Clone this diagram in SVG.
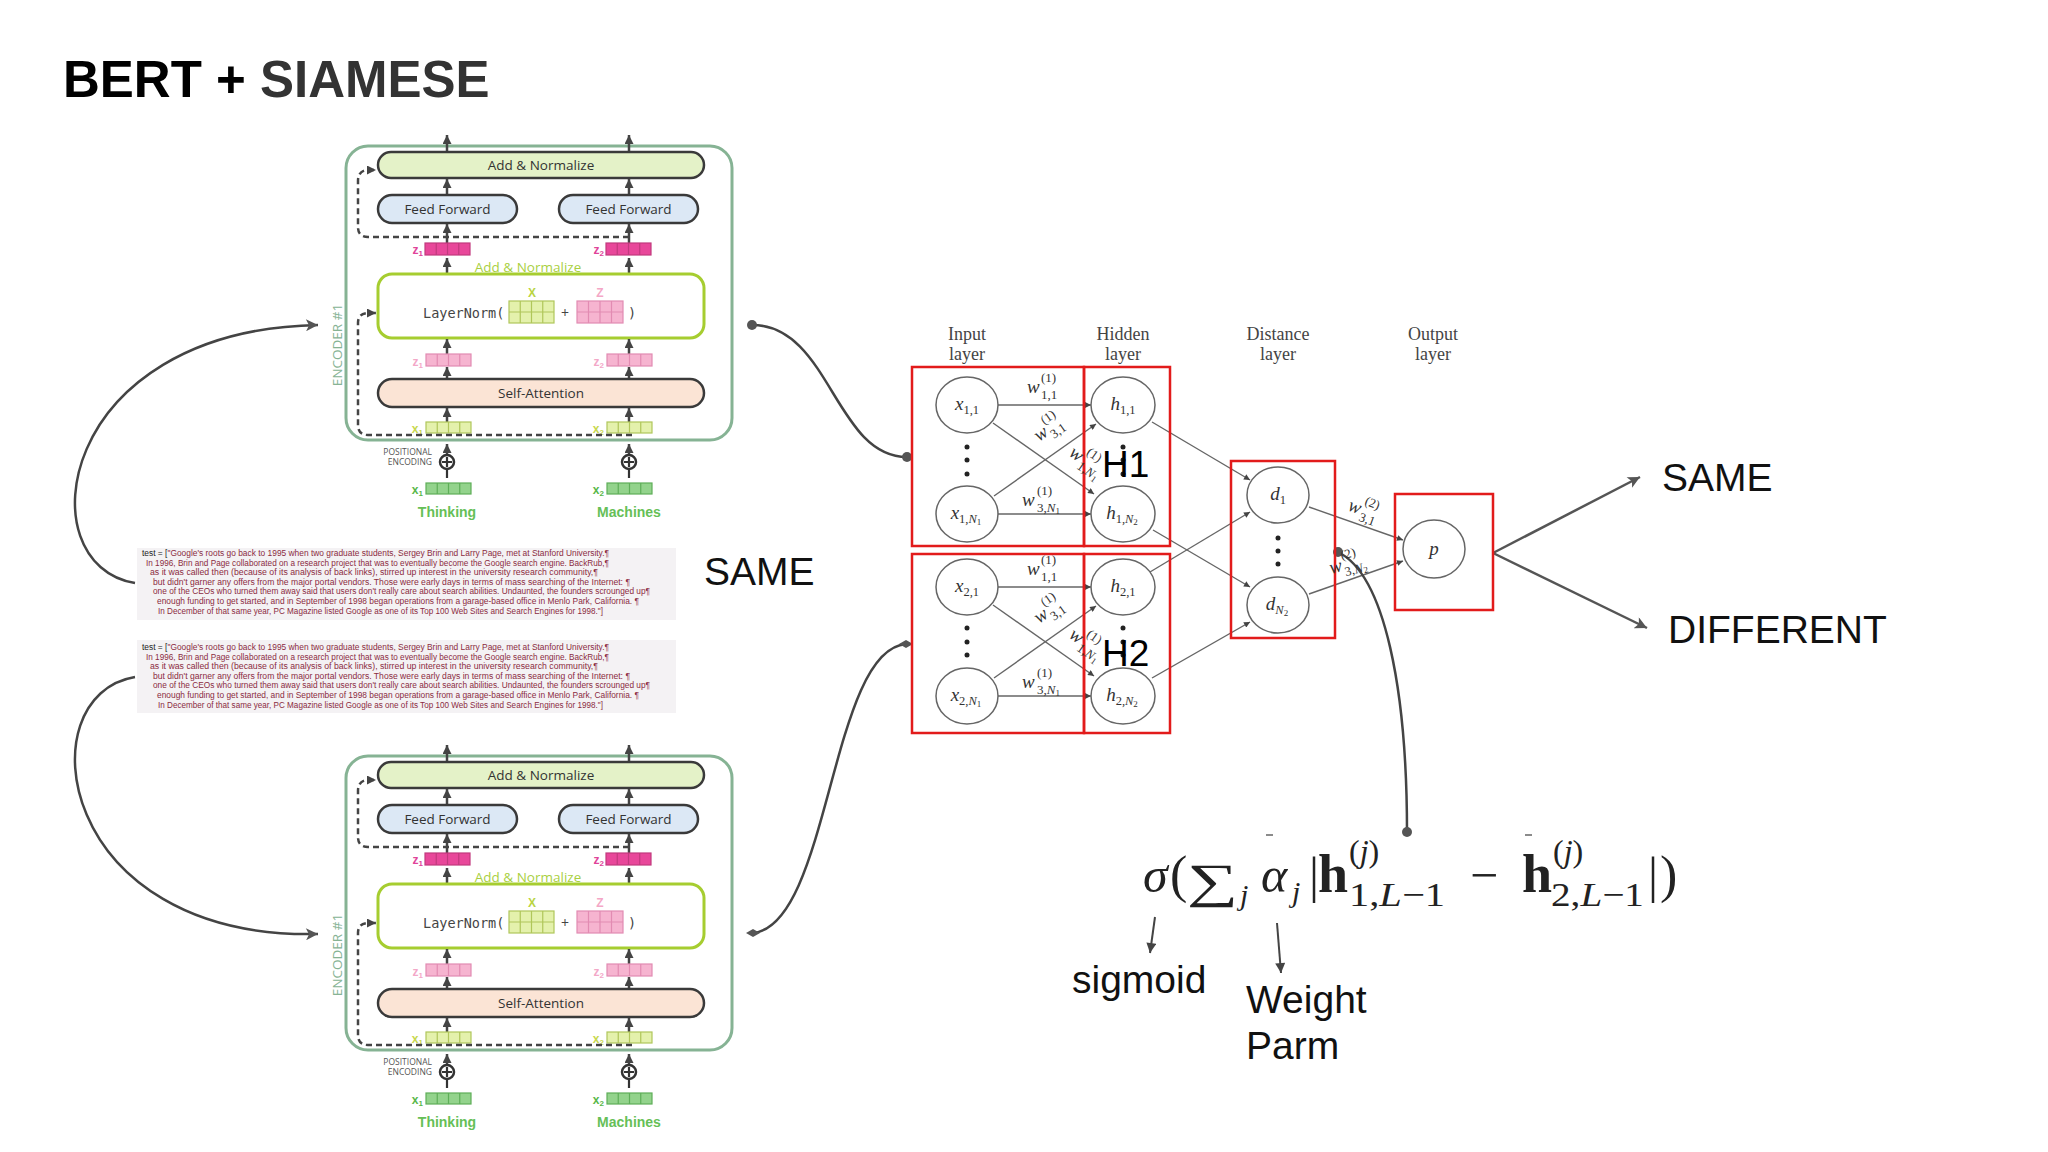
<svg xmlns="http://www.w3.org/2000/svg" width="2048" height="1152" viewBox="0 0 2048 1152">
<defs>
<style>
.frame{fill:none;stroke:#86b394;stroke-width:3}
.box{stroke:#3a3a3a;stroke-width:2.5}
.ea{stroke:#444;stroke-width:2.5;fill:none;marker-end:url(#ah)}
.dash{stroke:#444;stroke-width:2.5;fill:none;stroke-dasharray:6 4;marker-end:url(#ah)}
.et{font-family:"Open Sans","Liberation Sans",sans-serif;font-size:13.5px;fill:#333;text-anchor:middle}
.lbl{font-family:"Liberation Sans",sans-serif;font-weight:bold;font-size:12px;text-anchor:end}
.cd{stroke-width:1.2}
.zd{fill:#e8479a;stroke:#c13a7e}
.zl{fill:#f6b4d0;stroke:#e28bb2}
.xl{fill:#e4f1ac;stroke:#b0c65a}
.xg{fill:#93d38c;stroke:#5eae58}
.red{fill:none;stroke:#e21b1b;stroke-width:2.5}
.node{fill:#fff;stroke:#666;stroke-width:1.5}
.edge{stroke:#666;stroke-width:1.4;fill:none;marker-end:url(#sa)}
.m{font-family:"Liberation Serif","DejaVu Serif",serif;fill:#333}
.mi{font-style:italic;font-size:19px}
.ms{font-size:13px}
.hdr{font-family:"Liberation Serif","DejaVu Serif",serif;font-size:18px;fill:#444;text-anchor:middle}
.dot{fill:#222}
.conn{stroke:#444;stroke-width:2.5;fill:none}
.code{font-family:"Liberation Sans",sans-serif;font-size:8.3px;fill:#8b2b3f}
.big{font-family:"Liberation Sans",Arial,sans-serif;font-size:39px;fill:#111}
.fm{font-family:"Liberation Serif","DejaVu Serif",serif;fill:#222}
.enc{font-family:"Open Sans","Liberation Sans",sans-serif;font-size:13.5px;fill:#86b394;text-anchor:middle}
</style>
<marker id="ah" viewBox="0 0 10 10" refX="10" refY="5" markerWidth="9" markerHeight="9" markerUnits="userSpaceOnUse" orient="auto"><path d="M0,0 L10,5 L0,10 z" fill="#444"/></marker>
<marker id="sa" viewBox="0 0 10 10" refX="10" refY="5" markerWidth="7" markerHeight="6" markerUnits="userSpaceOnUse" orient="auto"><path d="M0,0 L10,5 L0,10 z" fill="#444"/></marker>
<marker id="bg" viewBox="0 0 10 10" refX="10" refY="5" markerWidth="16" markerHeight="12" markerUnits="userSpaceOnUse" orient="auto"><path d="M0,0 L10,5 L0,10 L2.5,5 z" fill="#555"/></marker>
<marker id="fa" viewBox="0 0 10 10" refX="10" refY="5" markerWidth="12" markerHeight="10" markerUnits="userSpaceOnUse" orient="auto"><path d="M0,0 L10,5 L0,10 z" fill="#444"/></marker>
</defs>
<rect width="2048" height="1152" fill="#fff"/>

<g id="title"><text x="63" y="97" font-family="Liberation Sans,Arial,sans-serif" font-weight="bold" font-size="51" fill="#000">BERT + <tspan fill="#333">SIAMESE</tspan></text></g>

<g id="encoder-top">
<rect class="frame" x="346" y="146" width="386" height="294" rx="22"/>
<text class="enc" transform="translate(342,345) rotate(-90)">ENCODER #1</text>
<line class="ea" x1="447" y1="152" x2="447" y2="135"/><line class="ea" x1="629" y1="152" x2="629" y2="135"/>
<rect class="box" x="378" y="152" width="326" height="26" rx="13" fill="#e4f2c8"/>
<text class="et" x="541" y="170">Add &amp; Normalize</text>
<line class="ea" x1="447" y1="195" x2="447" y2="179"/><line class="ea" x1="629" y1="195" x2="629" y2="179"/>
<rect class="box" x="378" y="195" width="139" height="28" rx="14" fill="#dce8f5"/>
<text class="et" x="447.5" y="214">Feed Forward</text>
<rect class="box" x="559" y="195" width="139" height="28" rx="14" fill="#dce8f5"/>
<text class="et" x="628.5" y="214">Feed Forward</text>
<path class="dash" d="M629,237 H368 Q358,237 358,227 V181 Q358,171 367,170 L376,170"/>
<line class="ea" x1="447" y1="243" x2="447" y2="224"/><line class="ea" x1="629" y1="243" x2="629" y2="224"/>
<g class="cd"><rect class="zd" x="425" y="243" width="45" height="12"/><path d="M436.25,243v12M447.5,243v12M458.75,243v12" stroke="#c13a7e"/>
<rect class="zd" x="606" y="243" width="45" height="12"/><path d="M617.25,243v12M628.5,243v12M639.75,243v12" stroke="#c13a7e"/></g>
<text class="lbl" x="423" y="254" fill="#e0449a">z<tspan font-size="8" dy="2">1</tspan></text>
<text class="lbl" x="604" y="254" fill="#e0449a">z<tspan font-size="8" dy="2">2</tspan></text>
<line class="ea" x1="447" y1="273" x2="447" y2="258"/><line class="ea" x1="629" y1="273" x2="629" y2="258"/>
<rect x="378" y="274" width="326" height="64" rx="14" fill="#fff" stroke="#a6cd30" stroke-width="3"/>
<text class="et" x="528" y="272" font-size="14" style="fill:#a9d03f">Add &amp; Normalize</text>
<text x="532" y="297" font-family="Liberation Sans,sans-serif" font-size="12" font-weight="bold" fill="#b9d442" text-anchor="middle">X</text>
<text x="600" y="297" font-family="Liberation Sans,sans-serif" font-size="12" font-weight="bold" fill="#f4a7c6" text-anchor="middle">Z</text>
<text x="423" y="318" font-family="DejaVu Sans Mono,Liberation Mono,monospace" font-size="13.5" fill="#444">LayerNorm(</text>
<g class="cd"><rect class="xl" x="509" y="301" width="45" height="22"/><path d="M520.25,301v22M531.5,301v22M542.75,301v22M509,312h45" stroke="#b0c65a"/>
<rect class="zl" x="577" y="301" width="46" height="22"/><path d="M588.5,301v22M600,301v22M611.5,301v22M577,312h46" stroke="#e28bb2"/></g>
<text x="565" y="318" font-family="Open Sans,sans-serif" font-size="14" fill="#444" text-anchor="middle">+</text>
<text x="628" y="318" font-family="DejaVu Sans Mono,monospace" font-size="13.5" fill="#444">)</text>
<line class="ea" x1="447" y1="354" x2="447" y2="339"/><line class="ea" x1="629" y1="354" x2="629" y2="339"/>
<g class="cd"><rect class="zl" x="426" y="354" width="45" height="12"/><path d="M437.25,354v12M448.5,354v12M459.75,354v12" stroke="#e28bb2"/>
<rect class="zl" x="607" y="354" width="45" height="12"/><path d="M618.25,354v12M629.5,354v12M640.75,354v12" stroke="#e28bb2"/></g>
<text class="lbl" x="423" y="366" fill="#f3a8c8">z<tspan font-size="8" dy="2">1</tspan></text>
<text class="lbl" x="604" y="366" fill="#f3a8c8">z<tspan font-size="8" dy="2">2</tspan></text>
<line class="ea" x1="447" y1="379" x2="447" y2="367"/><line class="ea" x1="629" y1="379" x2="629" y2="367"/>
<rect class="box" x="378" y="379" width="326" height="28" rx="14" fill="#fbe4d5"/>
<text class="et" x="541" y="398">Self-Attention</text>
<line class="ea" x1="447" y1="422" x2="447" y2="408"/><line class="ea" x1="629" y1="422" x2="629" y2="408"/>
<g class="cd"><rect class="xl" x="426" y="422" width="45" height="11"/><path d="M437.25,422v11M448.5,422v11M459.75,422v11" stroke="#b0c65a"/>
<rect class="xl" x="607" y="422" width="45" height="11"/><path d="M618.25,422v11M629.5,422v11M640.75,422v11" stroke="#b0c65a"/></g>
<text class="lbl" x="423" y="433" fill="#c8d84e">x<tspan font-size="8" dy="2">1</tspan></text>
<text class="lbl" x="604" y="433" fill="#c8d84e">x<tspan font-size="8" dy="2">2</tspan></text>
<path class="dash" d="M632,435 H368 Q358,435 358,425 V323 Q358,314 367,313 L376,313"/>
<line class="ea" x1="447" y1="455" x2="447" y2="444"/><line class="ea" x1="629" y1="455" x2="629" y2="444"/>
<g stroke="#333" stroke-width="2.5" fill="#fff"><circle cx="447" cy="462" r="7"/><circle cx="629" cy="462" r="7"/></g>
<path d="M442,462h10M447,457v10M624,462h10M629,457v10M447,469v9M629,469v9" stroke="#333" stroke-width="2.2"/>
<text x="432" y="455" font-family="Open Sans,Liberation Sans,sans-serif" font-size="8.5" fill="#555" text-anchor="end">POSITIONAL</text>
<text x="432" y="465" font-family="Open Sans,Liberation Sans,sans-serif" font-size="8.5" fill="#555" text-anchor="end">ENCODING</text>
<g class="cd"><rect class="xg" x="426" y="483" width="45" height="11"/><path d="M437.25,483v11M448.5,483v11M459.75,483v11" stroke="#5eae58"/>
<rect class="xg" x="607" y="483" width="45" height="11"/><path d="M618.25,483v11M629.5,483v11M640.75,483v11" stroke="#5eae58"/></g>
<text class="lbl" x="423" y="494" fill="#58b84a" font-size="13">x<tspan font-size="8" dy="2">1</tspan></text>
<text class="lbl" x="604" y="494" fill="#58b84a" font-size="13">x<tspan font-size="8" dy="2">2</tspan></text>
<text x="447" y="517" font-family="Liberation Sans,sans-serif" font-weight="bold" font-size="14" fill="#66bf57" text-anchor="middle">Thinking</text>
<text x="629" y="517" font-family="Liberation Sans,sans-serif" font-weight="bold" font-size="14" fill="#66bf57" text-anchor="middle">Machines</text>
</g>

<g id="encoder-bottom" transform="translate(0,610)">
<rect class="frame" x="346" y="146" width="386" height="294" rx="22"/>
<text class="enc" transform="translate(342,345) rotate(-90)">ENCODER #1</text>
<line class="ea" x1="447" y1="152" x2="447" y2="135"/><line class="ea" x1="629" y1="152" x2="629" y2="135"/>
<rect class="box" x="378" y="152" width="326" height="26" rx="13" fill="#e4f2c8"/>
<text class="et" x="541" y="170">Add &amp; Normalize</text>
<line class="ea" x1="447" y1="195" x2="447" y2="179"/><line class="ea" x1="629" y1="195" x2="629" y2="179"/>
<rect class="box" x="378" y="195" width="139" height="28" rx="14" fill="#dce8f5"/>
<text class="et" x="447.5" y="214">Feed Forward</text>
<rect class="box" x="559" y="195" width="139" height="28" rx="14" fill="#dce8f5"/>
<text class="et" x="628.5" y="214">Feed Forward</text>
<path class="dash" d="M629,237 H368 Q358,237 358,227 V181 Q358,171 367,170 L376,170"/>
<line class="ea" x1="447" y1="243" x2="447" y2="224"/><line class="ea" x1="629" y1="243" x2="629" y2="224"/>
<g class="cd"><rect class="zd" x="425" y="243" width="45" height="12"/><path d="M436.25,243v12M447.5,243v12M458.75,243v12" stroke="#c13a7e"/>
<rect class="zd" x="606" y="243" width="45" height="12"/><path d="M617.25,243v12M628.5,243v12M639.75,243v12" stroke="#c13a7e"/></g>
<text class="lbl" x="423" y="254" fill="#e0449a">z<tspan font-size="8" dy="2">1</tspan></text>
<text class="lbl" x="604" y="254" fill="#e0449a">z<tspan font-size="8" dy="2">2</tspan></text>
<line class="ea" x1="447" y1="273" x2="447" y2="258"/><line class="ea" x1="629" y1="273" x2="629" y2="258"/>
<rect x="378" y="274" width="326" height="64" rx="14" fill="#fff" stroke="#a6cd30" stroke-width="3"/>
<text class="et" x="528" y="272" font-size="14" style="fill:#a9d03f">Add &amp; Normalize</text>
<text x="532" y="297" font-family="Liberation Sans,sans-serif" font-size="12" font-weight="bold" fill="#b9d442" text-anchor="middle">X</text>
<text x="600" y="297" font-family="Liberation Sans,sans-serif" font-size="12" font-weight="bold" fill="#f4a7c6" text-anchor="middle">Z</text>
<text x="423" y="318" font-family="DejaVu Sans Mono,Liberation Mono,monospace" font-size="13.5" fill="#444">LayerNorm(</text>
<g class="cd"><rect class="xl" x="509" y="301" width="45" height="22"/><path d="M520.25,301v22M531.5,301v22M542.75,301v22M509,312h45" stroke="#b0c65a"/>
<rect class="zl" x="577" y="301" width="46" height="22"/><path d="M588.5,301v22M600,301v22M611.5,301v22M577,312h46" stroke="#e28bb2"/></g>
<text x="565" y="318" font-family="Open Sans,sans-serif" font-size="14" fill="#444" text-anchor="middle">+</text>
<text x="628" y="318" font-family="DejaVu Sans Mono,monospace" font-size="13.5" fill="#444">)</text>
<line class="ea" x1="447" y1="354" x2="447" y2="339"/><line class="ea" x1="629" y1="354" x2="629" y2="339"/>
<g class="cd"><rect class="zl" x="426" y="354" width="45" height="12"/><path d="M437.25,354v12M448.5,354v12M459.75,354v12" stroke="#e28bb2"/>
<rect class="zl" x="607" y="354" width="45" height="12"/><path d="M618.25,354v12M629.5,354v12M640.75,354v12" stroke="#e28bb2"/></g>
<text class="lbl" x="423" y="366" fill="#f3a8c8">z<tspan font-size="8" dy="2">1</tspan></text>
<text class="lbl" x="604" y="366" fill="#f3a8c8">z<tspan font-size="8" dy="2">2</tspan></text>
<line class="ea" x1="447" y1="379" x2="447" y2="367"/><line class="ea" x1="629" y1="379" x2="629" y2="367"/>
<rect class="box" x="378" y="379" width="326" height="28" rx="14" fill="#fbe4d5"/>
<text class="et" x="541" y="398">Self-Attention</text>
<line class="ea" x1="447" y1="422" x2="447" y2="408"/><line class="ea" x1="629" y1="422" x2="629" y2="408"/>
<g class="cd"><rect class="xl" x="426" y="422" width="45" height="11"/><path d="M437.25,422v11M448.5,422v11M459.75,422v11" stroke="#b0c65a"/>
<rect class="xl" x="607" y="422" width="45" height="11"/><path d="M618.25,422v11M629.5,422v11M640.75,422v11" stroke="#b0c65a"/></g>
<text class="lbl" x="423" y="433" fill="#c8d84e">x<tspan font-size="8" dy="2">1</tspan></text>
<text class="lbl" x="604" y="433" fill="#c8d84e">x<tspan font-size="8" dy="2">2</tspan></text>
<path class="dash" d="M632,435 H368 Q358,435 358,425 V323 Q358,314 367,313 L376,313"/>
<line class="ea" x1="447" y1="455" x2="447" y2="444"/><line class="ea" x1="629" y1="455" x2="629" y2="444"/>
<g stroke="#333" stroke-width="2.5" fill="#fff"><circle cx="447" cy="462" r="7"/><circle cx="629" cy="462" r="7"/></g>
<path d="M442,462h10M447,457v10M624,462h10M629,457v10M447,469v9M629,469v9" stroke="#333" stroke-width="2.2"/>
<text x="432" y="455" font-family="Open Sans,Liberation Sans,sans-serif" font-size="8.5" fill="#555" text-anchor="end">POSITIONAL</text>
<text x="432" y="465" font-family="Open Sans,Liberation Sans,sans-serif" font-size="8.5" fill="#555" text-anchor="end">ENCODING</text>
<g class="cd"><rect class="xg" x="426" y="483" width="45" height="11"/><path d="M437.25,483v11M448.5,483v11M459.75,483v11" stroke="#5eae58"/>
<rect class="xg" x="607" y="483" width="45" height="11"/><path d="M618.25,483v11M629.5,483v11M640.75,483v11" stroke="#5eae58"/></g>
<text class="lbl" x="423" y="494" fill="#58b84a" font-size="13">x<tspan font-size="8" dy="2">1</tspan></text>
<text class="lbl" x="604" y="494" fill="#58b84a" font-size="13">x<tspan font-size="8" dy="2">2</tspan></text>
<text x="447" y="517" font-family="Liberation Sans,sans-serif" font-weight="bold" font-size="14" fill="#66bf57" text-anchor="middle">Thinking</text>
<text x="629" y="517" font-family="Liberation Sans,sans-serif" font-weight="bold" font-size="14" fill="#66bf57" text-anchor="middle">Machines</text>
</g>

<g id="text-a">
<rect x="137" y="548" width="539" height="72" fill="#f4f2f4"/>
<text class="code" x="142" y="556" textLength="467" lengthAdjust="spacingAndGlyphs"><tspan fill="#222">test = [</tspan>"Google's roots go back to 1995 when two graduate students, Sergey Brin and Larry Page, met at Stanford University.¶</text>
<text class="code" x="146" y="565.6" textLength="463" lengthAdjust="spacingAndGlyphs">In 1996, Brin and Page collaborated on a research project that was to eventually become the Google search engine. BackRub,¶</text>
<text class="code" x="150" y="575.2" textLength="448" lengthAdjust="spacingAndGlyphs">as it was called then (because of its analysis of back links), stirred up interest in the university research community,¶</text>
<text class="code" x="153" y="584.8" textLength="477" lengthAdjust="spacingAndGlyphs">but didn't garner any offers from the major portal vendors. Those were early days in terms of mass searching of the Internet: ¶</text>
<text class="code" x="153" y="594.4" textLength="497" lengthAdjust="spacingAndGlyphs">one of the CEOs who turned them away said that users don't really care about search abilities. Undaunted, the founders scrounged up¶</text>
<text class="code" x="157" y="604" textLength="482" lengthAdjust="spacingAndGlyphs">enough funding to get started, and in September of 1998 began operations from a garage-based office in Menlo Park, California. ¶</text>
<text class="code" x="158" y="613.6" textLength="445" lengthAdjust="spacingAndGlyphs">In December of that same year, PC Magazine listed Google as one of its Top 100 Web Sites and Search Engines for 1998."]</text>
</g>
<g id="text-b">
<rect x="137" y="640" width="539" height="73" fill="#f4f2f4"/>
<text class="code" x="142" y="650" textLength="467" lengthAdjust="spacingAndGlyphs"><tspan fill="#222">test = [</tspan>"Google's roots go back to 1995 when two graduate students, Sergey Brin and Larry Page, met at Stanford University.¶</text>
<text class="code" x="146" y="659.6" textLength="463" lengthAdjust="spacingAndGlyphs">In 1996, Brin and Page collaborated on a research project that was to eventually become the Google search engine. BackRub,¶</text>
<text class="code" x="150" y="669.2" textLength="448" lengthAdjust="spacingAndGlyphs">as it was called then (because of its analysis of back links), stirred up interest in the university research community,¶</text>
<text class="code" x="153" y="678.8" textLength="477" lengthAdjust="spacingAndGlyphs">but didn't garner any offers from the major portal vendors. Those were early days in terms of mass searching of the Internet: ¶</text>
<text class="code" x="153" y="688.4" textLength="497" lengthAdjust="spacingAndGlyphs">one of the CEOs who turned them away said that users don't really care about search abilities. Undaunted, the founders scrounged up¶</text>
<text class="code" x="157" y="698" textLength="482" lengthAdjust="spacingAndGlyphs">enough funding to get started, and in September of 1998 began operations from a garage-based office in Menlo Park, California. ¶</text>
<text class="code" x="158" y="707.6" textLength="445" lengthAdjust="spacingAndGlyphs">In December of that same year, PC Magazine listed Google as one of its Top 100 Web Sites and Search Engines for 1998."]</text>
</g>

<g id="label-same-mid"><text class="big" x="704" y="585">SAME</text></g>

<g id="layer-headers">
<text class="hdr" x="967" y="340">Input</text><text class="hdr" x="967" y="360">layer</text>
<text class="hdr" x="1123" y="340">Hidden</text><text class="hdr" x="1123" y="360">layer</text>
<text class="hdr" x="1278" y="340">Distance</text><text class="hdr" x="1278" y="360">layer</text>
<text class="hdr" x="1433" y="340">Output</text><text class="hdr" x="1433" y="360">layer</text>
</g>

<g id="connectors">
<path class="conn" d="M135,583 C25,565 55,330 318,325" marker-end="url(#bg)"/>
<path class="conn" d="M135,677 C25,695 55,940 318,934" marker-end="url(#bg)"/>
<path class="conn" d="M752,325 C830,325 835,457 907,457"/>
<circle cx="752" cy="325" r="5" fill="#555"/><circle cx="907" cy="457" r="5" fill="#555"/>
<path class="conn" d="M753,933 C830,925 830,650 906,644"/>
<path d="M746,933 L753,929 L760,933 L753,937 z M899,644 L906,640 L913,644 L906,648 z" fill="#555"/>
<line class="edge" x1="998" y1="405" x2="1091" y2="405"/>
<line class="edge" x1="993" y1="423" x2="1094" y2="494"/>
<line class="edge" x1="994" y1="496" x2="1096" y2="424"/>
<line class="edge" x1="998" y1="514" x2="1091" y2="514"/>
<line class="edge" x1="998" y1="587" x2="1091" y2="587"/>
<line class="edge" x1="993" y1="605" x2="1094" y2="676"/>
<line class="edge" x1="994" y1="678" x2="1096" y2="606"/>
<line class="edge" x1="998" y1="696" x2="1091" y2="696"/>
<line class="edge" x1="1152" y1="422" x2="1250" y2="480"/>
<line class="edge" x1="1150" y1="572" x2="1250" y2="512"/>
<line class="edge" x1="1153" y1="530" x2="1250" y2="587"/>
<line class="edge" x1="1152" y1="678" x2="1250" y2="622"/>
<line class="edge" x1="1309" y1="507" x2="1403" y2="540"/>
<line class="edge" x1="1309" y1="594" x2="1403" y2="561"/>
<line x1="1493" y1="553" x2="1640" y2="477" stroke="#555" stroke-width="2.5" marker-end="url(#bg)"/>
<line x1="1493" y1="553" x2="1647" y2="628" stroke="#555" stroke-width="2.5" marker-end="url(#bg)"/>
<path class="conn" d="M1338,552 C1385,575 1407,690 1407,832"/>
<circle cx="1338" cy="552" r="5" fill="#555"/><circle cx="1407" cy="832" r="5" fill="#555"/>
<line x1="1155" y1="917" x2="1150" y2="953" stroke="#444" stroke-width="2" marker-end="url(#fa)"/>
<line x1="1277" y1="923" x2="1281" y2="973" stroke="#444" stroke-width="2" marker-end="url(#fa)"/>
</g>

<g id="box-input-1"><rect class="red" x="912" y="367" width="172" height="179"/></g>
<g id="box-hidden-1"><rect class="red" x="1084" y="367" width="86" height="179"/></g>
<g id="box-input-2"><rect class="red" x="912" y="554" width="172" height="179"/></g>
<g id="box-hidden-2"><rect class="red" x="1084" y="554" width="86" height="179"/></g>
<g id="box-distance"><rect class="red" x="1231" y="461" width="104" height="177"/></g>
<g id="box-output"><rect class="red" x="1395" y="494" width="98" height="116"/></g>

<g id="node-x11"><ellipse class="node" cx="967" cy="405" rx="31" ry="28"/><text class="m mi" x="967" y="410" text-anchor="middle">x<tspan font-size="12.5" font-style="normal" dy="4">1,1</tspan></text></g>
<g id="node-x1N"><ellipse class="node" cx="967" cy="514" rx="31" ry="28"/><text class="m mi" x="966" y="519" text-anchor="middle">x<tspan font-size="12.5" font-style="normal" dy="4">1,</tspan><tspan font-size="12.5">N</tspan><tspan font-size="9" font-style="normal" dy="2">1</tspan></text></g>
<g id="node-h11"><ellipse class="node" cx="1123" cy="405" rx="32" ry="28"/><text class="m mi" x="1123" y="410" text-anchor="middle">h<tspan font-size="12.5" font-style="normal" dy="4">1,1</tspan></text></g>
<g id="node-h1N"><ellipse class="node" cx="1123" cy="514" rx="32" ry="28"/><text class="m mi" x="1122" y="519" text-anchor="middle">h<tspan font-size="12.5" font-style="normal" dy="4">1,</tspan><tspan font-size="12.5">N</tspan><tspan font-size="9" font-style="normal" dy="2">2</tspan></text></g>
<g id="node-x21"><ellipse class="node" cx="967" cy="587" rx="31" ry="28"/><text class="m mi" x="967" y="592" text-anchor="middle">x<tspan font-size="12.5" font-style="normal" dy="4">2,1</tspan></text></g>
<g id="node-x2N"><ellipse class="node" cx="967" cy="696" rx="31" ry="28"/><text class="m mi" x="966" y="701" text-anchor="middle">x<tspan font-size="12.5" font-style="normal" dy="4">2,</tspan><tspan font-size="12.5">N</tspan><tspan font-size="9" font-style="normal" dy="2">1</tspan></text></g>
<g id="node-h21"><ellipse class="node" cx="1123" cy="587" rx="32" ry="28"/><text class="m mi" x="1123" y="592" text-anchor="middle">h<tspan font-size="12.5" font-style="normal" dy="4">2,1</tspan></text></g>
<g id="node-h2N"><ellipse class="node" cx="1123" cy="696" rx="32" ry="28"/><text class="m mi" x="1122" y="701" text-anchor="middle">h<tspan font-size="12.5" font-style="normal" dy="4">2,</tspan><tspan font-size="12.5">N</tspan><tspan font-size="9" font-style="normal" dy="2">2</tspan></text></g>
<g id="node-d1"><ellipse class="node" cx="1278" cy="495" rx="31" ry="28"/><text class="m mi" x="1278" y="500" text-anchor="middle">d<tspan font-size="12.5" font-style="normal" dy="4">1</tspan></text></g>
<g id="node-dN"><ellipse class="node" cx="1278" cy="605" rx="31" ry="28"/><text class="m mi" x="1277" y="610" text-anchor="middle">d<tspan font-size="12.5" dy="4">N</tspan><tspan font-size="9" font-style="normal" dy="2">2</tspan></text></g>
<g id="node-p"><ellipse class="node" cx="1434" cy="549" rx="31" ry="29"/><text class="m mi" x="1434" y="555" text-anchor="middle">p</text></g>

<g id="nn-dots">
<circle class="dot" cx="967" cy="447" r="2.5"/><circle class="dot" cx="967" cy="460" r="2.5"/><circle class="dot" cx="967" cy="474" r="2.5"/>
<circle class="dot" cx="967" cy="628" r="2.5"/><circle class="dot" cx="967" cy="642" r="2.5"/><circle class="dot" cx="967" cy="655" r="2.5"/>
<circle class="dot" cx="1123" cy="447" r="2.5"/><circle class="dot" cx="1123" cy="460" r="2.5"/><circle class="dot" cx="1123" cy="474" r="2.5"/>
<circle class="dot" cx="1123" cy="628" r="2.5"/><circle class="dot" cx="1123" cy="642" r="2.5"/><circle class="dot" cx="1123" cy="655" r="2.5"/>
<circle class="dot" cx="1278" cy="538" r="2.5"/><circle class="dot" cx="1278" cy="551" r="2.5"/><circle class="dot" cx="1278" cy="564" r="2.5"/>
</g>

<g id="weight-labels">
<g transform="translate(1027,393)"><text class="m mi">w</text><text class="m ms" x="14" y="-11">(1)</text><text class="m ms" x="14" y="6">1,1</text></g>
<g transform="translate(1039,442) rotate(-35)"><text class="m mi">w</text><text class="m ms" x="14" y="-11">(1)</text><text class="m ms" x="14" y="6">3,1</text></g>
<g transform="translate(1068,455) rotate(35)"><text class="m mi">w</text><text class="m ms" x="14" y="-11">(1)</text><text class="m ms" x="14" y="6">1,<tspan font-style="italic">N</tspan><tspan font-size="9" dy="2">1</tspan></text></g>
<g transform="translate(1022,506)"><text class="m mi">w</text><text class="m ms" x="15" y="-11">(1)</text><text class="m ms" x="15" y="6">3,<tspan font-style="italic">N</tspan><tspan font-size="9" dy="2">1</tspan></text></g>
<g transform="translate(1027,575)"><text class="m mi">w</text><text class="m ms" x="14" y="-11">(1)</text><text class="m ms" x="14" y="6">1,1</text></g>
<g transform="translate(1039,624) rotate(-35)"><text class="m mi">w</text><text class="m ms" x="14" y="-11">(1)</text><text class="m ms" x="14" y="6">3,1</text></g>
<g transform="translate(1068,637) rotate(35)"><text class="m mi">w</text><text class="m ms" x="14" y="-11">(1)</text><text class="m ms" x="14" y="6">1,<tspan font-style="italic">N</tspan><tspan font-size="9" dy="2">1</tspan></text></g>
<g transform="translate(1022,688)"><text class="m mi">w</text><text class="m ms" x="15" y="-11">(1)</text><text class="m ms" x="15" y="6">3,<tspan font-style="italic">N</tspan><tspan font-size="9" dy="2">1</tspan></text></g>
<g transform="translate(1347,510) rotate(20)"><text class="m mi">w</text><text class="m ms" x="14" y="-11">(2)</text><text class="m ms" x="14" y="6">3,1</text></g>
<g transform="translate(1331,574) rotate(-15)"><text class="m mi">w</text><text class="m ms" x="14" y="-11">(2)</text><text class="m ms" x="14" y="6">3,<tspan font-style="italic">N</tspan><tspan font-size="9" dy="2">2</tspan></text></g>
</g>

<g id="label-h1"><text x="1102" y="477" font-family="Liberation Sans,Arial,sans-serif" font-size="37" fill="#000">H1</text></g>
<g id="label-h2"><text x="1102" y="666" font-family="Liberation Sans,Arial,sans-serif" font-size="37" fill="#000">H2</text></g>

<g id="label-same"><text class="big" x="1662" y="491">SAME</text></g>
<g id="label-different"><text class="big" x="1668" y="643">DIFFERENT</text></g>

<g id="formula">
<path d="M1266,835h7M1525,835h7" stroke="#666" stroke-width="1.5"/>
<text class="fm" x="1143" y="892" font-size="50" font-style="italic">σ</text>
<text class="fm" x="1170" y="892" font-size="52">(</text>
<text class="fm" transform="translate(1187,897) scale(1.5,1)" font-size="48">∑</text>
<text class="fm" x="1240" y="905" font-size="30" font-style="italic">j</text>
<text class="fm" x="1261" y="892" font-size="50" font-style="italic">α</text>
<text class="fm" x="1292" y="902" font-size="30" font-style="italic">j</text>
<text class="fm" x="1309" y="892" font-size="50">|</text>
<text class="fm" x="1318" y="892" font-size="54" font-weight="bold">h</text>
<text class="fm" x="1349" y="862" font-size="32">(<tspan font-style="italic">j</tspan>)</text>
<text class="fm" x="1349" y="906" font-size="34" textLength="96" lengthAdjust="spacingAndGlyphs">1,<tspan font-style="italic">L</tspan>−1</text>
<text class="fm" x="1470" y="892" font-size="50">−</text>
<text class="fm" x="1522" y="892" font-size="54" font-weight="bold">h</text>
<text class="fm" x="1553" y="862" font-size="32">(<tspan font-style="italic">j</tspan>)</text>
<text class="fm" x="1551" y="906" font-size="34" textLength="93" lengthAdjust="spacingAndGlyphs">2,<tspan font-style="italic">L</tspan>−1</text>
<text class="fm" x="1648" y="892" font-size="50">|</text>
<text class="fm" x="1660" y="892" font-size="52">)</text>
</g>
<g id="label-sigmoid"><text class="big" x="1072" y="993">sigmoid</text></g>
<g id="label-weight"><text class="big" x="1246" y="1013">Weight</text><text class="big" x="1246" y="1059">Parm</text></g>
</svg>
